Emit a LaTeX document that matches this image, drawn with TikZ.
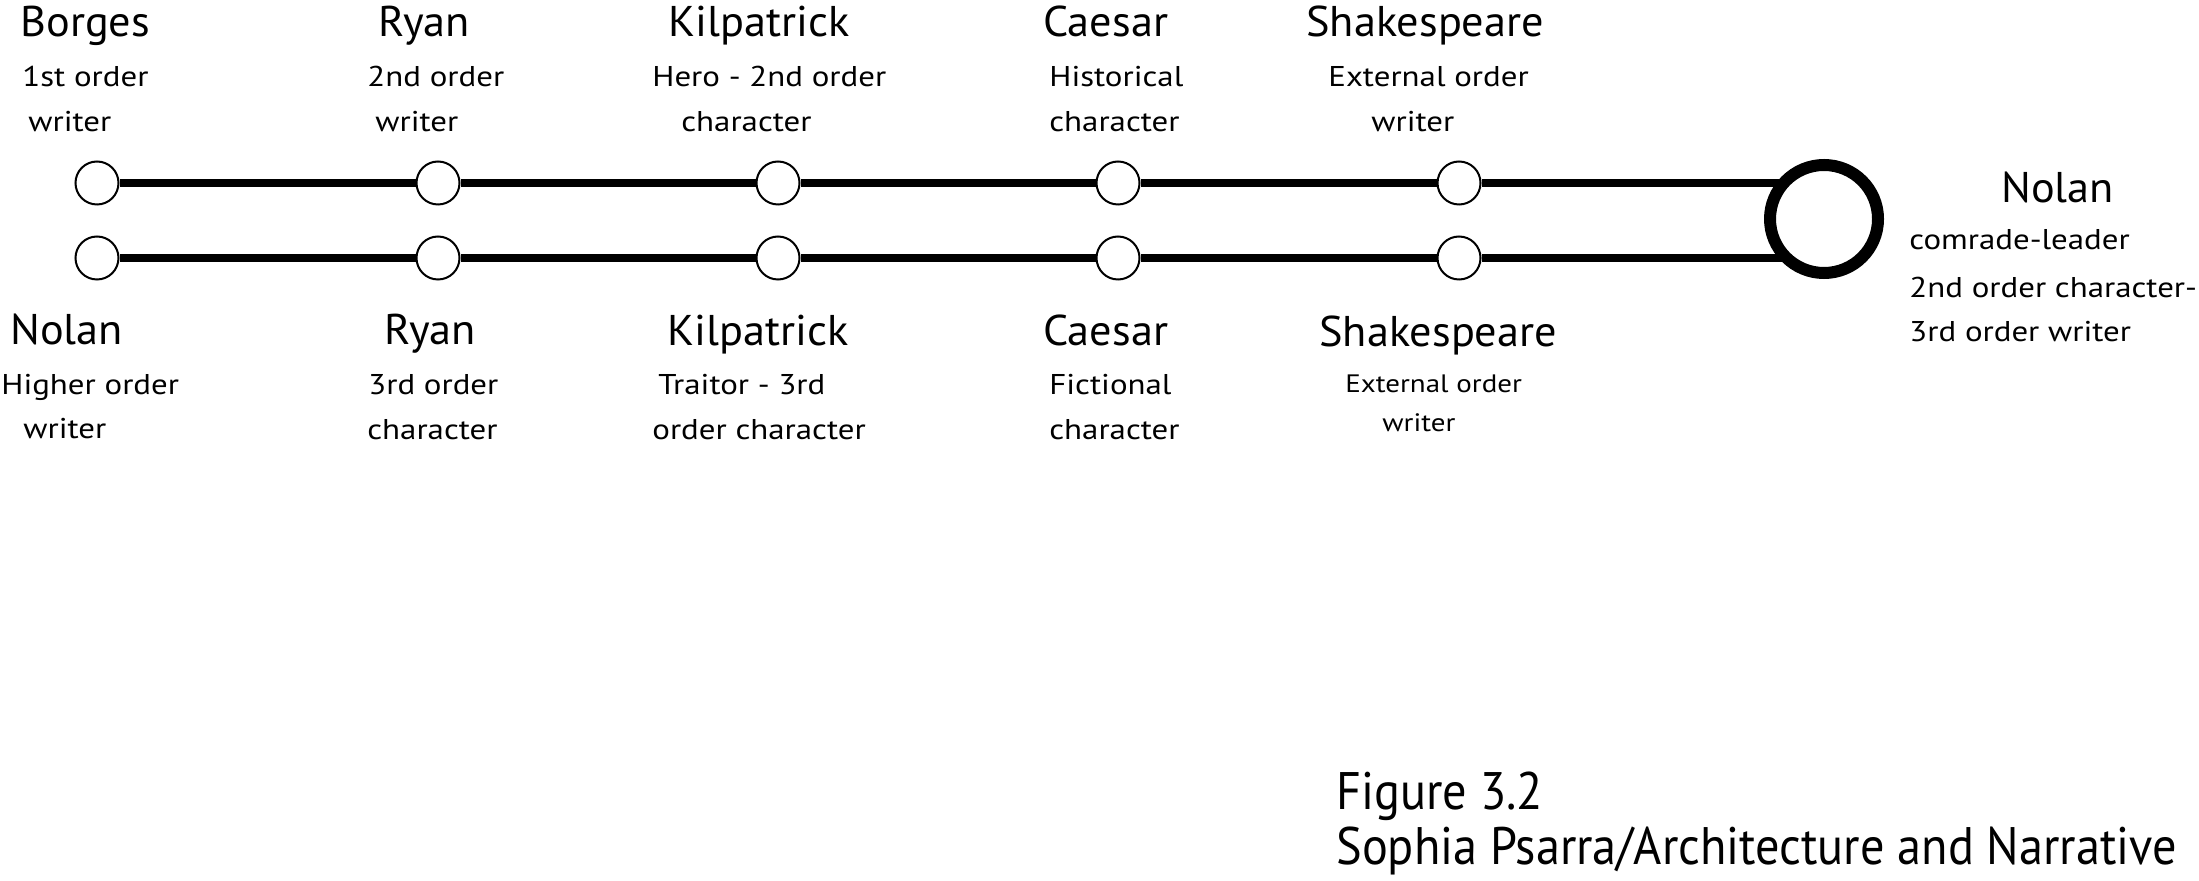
\documentclass[tikz,border=0pt]{standalone}
\usepackage{fontspec}
\setmainfont{PT Sans}
\newfontfamily\namefont[FakeStretch=1.03]{PT Sans}
\newfontfamily\subfont[FakeStretch=1.15]{PT Sans}
\newfontfamily\capfont[FakeStretch=0.915]{PT Sans}
\begin{document}
\begin{tikzpicture}[x=0.5pt,y=-0.5pt,
  dot/.style={circle,draw,line width=1pt,fill=white,minimum size=21.5pt,inner sep=0pt},
  hub/.style={circle,draw,line width=6pt,fill=white,minimum size=54pt,inner sep=0pt},
  conn/.style={line width=3.6pt},
  lbl/.style={anchor=base west,inner sep=0pt,font=\namefont\fontsize{21.5}{24}\selectfont},
  sub/.style={anchor=base west,inner sep=0pt,font=\subfont\fontsize{14.3}{16}\selectfont},
  subs/.style={anchor=base west,inner sep=0pt,font=\subfont\fontsize{12.6}{15}\selectfont},
  captxt/.style={anchor=base west,inner sep=0pt,font=\capfont\fontsize{26.4}{30}\selectfont}]
\useasboundingbox (0,0) rectangle (2199,881);
% circles
\node[dot] (t1) at (97,183) {};
\node[dot] (t2) at (438,183) {};
\node[dot] (t3) at (778,183) {};
\node[dot] (t4) at (1118,183) {};
\node[dot] (t5) at (1459,183) {};
\node[dot] (b1) at (97,258) {};
\node[dot] (b2) at (438,258) {};
\node[dot] (b3) at (778,258) {};
\node[dot] (b4) at (1118,258) {};
\node[dot] (b5) at (1459,258) {};
\coordinate (te) at (1824,183);
\coordinate (be) at (1824,258);
% connectors
\draw[conn] (t1) -- (t2);
\draw[conn] (t2) -- (t3);
\draw[conn] (t3) -- (t4);
\draw[conn] (t4) -- (t5);
\draw[conn] (t5) -- (te);
\draw[conn] (b1) -- (b2);
\draw[conn] (b2) -- (b3);
\draw[conn] (b3) -- (b4);
\draw[conn] (b4) -- (b5);
\draw[conn] (b5) -- (be);
\node[hub] (hub) at (1824,219) {};
% top labels
\node[lbl] (n1) at (20,37) {Borges};
\node[lbl] (n2) at (378,37) {Ryan};
\node[lbl] (n3) at (668,37) {Kilpatrick};
\node[lbl] (n4) at (1043,37) {Caesar};
\node[lbl] (n5) at (1306,37) {Shakespeare};
\node[sub] (a1) at (22,87) {1st order};
\node[sub] (a2) at (367,87) {2nd order};
\node[sub] (a3) at (652,87) {Hero - 2nd order};
\node[sub] (a4) at (1049,87) {Historical};
\node[sub] (a5) at (1328,87) {External order};
\node[sub] (c1) at (28,132) {writer};
\node[sub] (c2) at (375,132) {writer};
\node[sub] (c3) at (681,132) {character};
\node[sub] (c4) at (1049,132) {character};
\node[sub] (c5) at (1371,132) {writer};
% bottom labels
\node[lbl] (m1) at (10,345) {Nolan};
\node[lbl] (m2) at (384,345) {Ryan};
\node[lbl] (m3) at (667,346) {Kilpatrick};
\node[lbl] (m4) at (1043,346) {Caesar};
\node[lbl] (m5) at (1319,347) {Shakespeare};
\node[sub] (d1) at (1,395) {Higher order};
\node[sub] (d2) at (368,395) {3rd order};
\node[sub] (d3) at (658,395) {Traitor - 3rd};
\node[sub] (d4) at (1049,395) {Fictional};
\node[subs] (d5) at (1345,393) {External order};
\node[sub] (e1) at (23,439) {writer};
\node[sub] (e2) at (367,440) {character};
\node[sub] (e3) at (652,440) {order character};
\node[sub] (e4) at (1049,440) {character};
\node[subs] (e5) at (1382,432) {writer};
% right label
\node[lbl] (r0) at (2001,203) {Nolan};
\node[sub] (r1) at (1909,250) {comrade-leader};
\node[sub] (r2) at (1909,298) {2nd order character-};
\node[sub] (r3) at (1909,342) {3rd order writer};
% caption
\node[captxt] (f1) at (1336,809) {Figure 3.2};
\node[captxt] (f2) at (1336,864) {Sophia Psarra/Architecture and Narrative};
\end{tikzpicture}
\end{document}
